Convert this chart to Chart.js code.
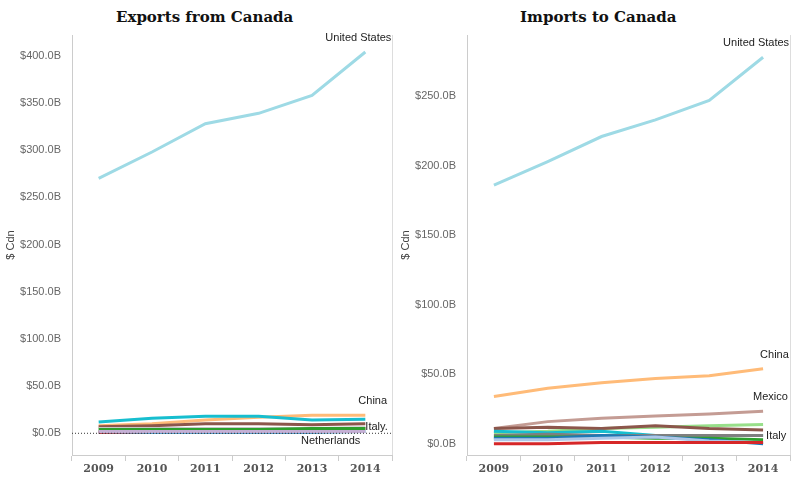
<!DOCTYPE html><html><head><meta charset="utf-8">
<script src="https://cdn.jsdelivr.net/npm/chart.js@4"></script>
<style>body{margin:0;width:798px;height:477px;background:#fff;position:relative;overflow:hidden}
.t{position:absolute;top:8px;font:bold 15px "DejaVu Serif",serif;color:#111}
canvas{position:absolute;top:0}</style></head><body>
<div class="t" style="left:116px">Exports from Canada</div>
<div class="t" style="left:520px">Imports to Canada</div>
<div style="position:absolute;left:0;top:0;width:400px;height:477px"><canvas id="c1"></canvas></div>
<div style="position:absolute;left:395px;top:0;width:403px;height:477px"><canvas id="c2"></canvas></div>
<script>
const years=['2009','2010','2011','2012','2013','2014'];
const expTicks=[0,50,100,150,200,250,300,350,400];
const impTicks=[0,50,100,150,200,250];
const expUS=[270,298,328,339,358,404];
const expChina=[8,10,14,17,19,19];
const expUK=[12,16,18,18,14,15];
const expBrown=[7,8,10,10,9,10];
const expGray=[5,5,5,5,5,6];
const expGreen=[4,4,4,4,5,5];
const expItaly=[1,2,3,3,4,5];
const expPurple=[2,2,2,2,2,2];
const expNeth=[1,1,1,1,1,2];
const impUS=[186,203,221,233,247,278];
const impChina=[34,40,44,47,49,54];
const impMexico=[11,16,18.5,20,21.5,23.5];
const impBrown=[11,12,11,13,11,10];
const impLGreen=[8,9,11,12,13,14];
const impCyan=[9,8,9,6,6,6];
const impItaly=[6,7,6,6,6,6];
const impGreen=[5,5,5,4,4,3];
const impBlue=[4,4,6,5,3,0];
const impLBlue=[3,3,4,5,2,1];
const impRed=[0,0,1,1,1,1];
const ds=(d,c,lab,lx,ly,al)=>({data:d,borderColor:c,lab,lx,ly,al});
const expSets=[ds(expPurple,'#c5b0d5'),ds(expGreen,'#2ca02c'),ds(expGray,'#c7c7c7'),ds(expItaly,'#d62728','Italy.',0,-2,'left'),ds(expNeth,'#1f77b4','Netherlands',-5,10,'right'),ds(expBrown,'#8c564b'),ds(expUK,'#17becf'),ds(expChina,'#ffbb78','China',-7,-14,'left'),ds(expUS,'#9edae5','United States',-40,-14,'left')];
const impSets=[ds(impRed,'#d62728'),ds(impLBlue,'#aec7e8'),ds(impBlue,'#1f77b4'),ds(impGreen,'#2ca02c'),ds(impItaly,'#7f7f7f','Italy',3,0,'left'),ds(impCyan,'#17becf'),ds(impBrown,'#8c564b'),ds(impLGreen,'#98df8a'),ds(impMexico,'#c49c94','Mexico',-10,-14,'left'),ds(impChina,'#ffbb78','China',-3,-14,'left'),ds(impUS,'#9edae5','United States',-40,-14,'left')];
const labelPlugin={id:'lab',afterDatasetsDraw(ch){const c=ch.ctx;c.save();c.font='11px "Liberation Sans",Arial';c.fillStyle='#222';c.textBaseline='middle';
ch.data.datasets.forEach((d,i)=>{if(!d.lab)return;const p=ch.getDatasetMeta(i).data[5];c.textAlign=d.al;c.fillText(d.lab,p.x+d.lx,p.y+d.ly);});
const a=ch.chartArea;c.strokeStyle='#ddd';c.lineWidth=1;c.beginPath();c.moveTo(a.right+0.5,a.top);c.lineTo(a.right+0.5,a.bottom);c.stroke();
if(ch.options.zeroLine){const y=ch.scales.y.getPixelForValue(0);c.strokeStyle='#333';c.setLineDash([1,2]);c.beginPath();c.moveTo(a.left,y);c.lineTo(a.right,y);c.stroke();}
c.restore();}};
function make(id,sets,min,max,zl,tk){
 sets.forEach(s=>{s.borderWidth=3;s.pointRadius=0;s.tension=0;s.fill=false;});
 new Chart(document.getElementById(id),{type:'line',data:{labels:years,datasets:sets},plugins:[labelPlugin],
 options:{zeroLine:zl,responsive:true,maintainAspectRatio:false,animation:false,layout:{padding:{top:35,right:8}},
 plugins:{legend:{display:false},tooltip:{enabled:false}},
 scales:{x:{offset:true,grid:{display:true,drawOnChartArea:false,offset:true,tickLength:6,color:'#ccc'},border:{color:'#ccc'},
   ticks:{color:'#555',font:{family:'"DejaVu Serif",serif',weight:'bold',size:11},padding:2},afterFit(s){s.height=22;}},
  y:{min,max,grid:{display:false},border:{color:'#ccc'},title:{display:true,text:'$ Cdn',color:'#444',font:{size:11}},
   afterBuildTicks(s){s.ticks=tk.map(v=>({value:v}));},
   ticks:{color:'#666',font:{size:11},callback:v=>'$'+v.toFixed(1)+'B'},afterFit(s){s.width=72;}}}}});
}
make('c1',expSets,-23,422,true,expTicks);
make('c2',impSets,-8,294,false,impTicks);
</script></body></html>
